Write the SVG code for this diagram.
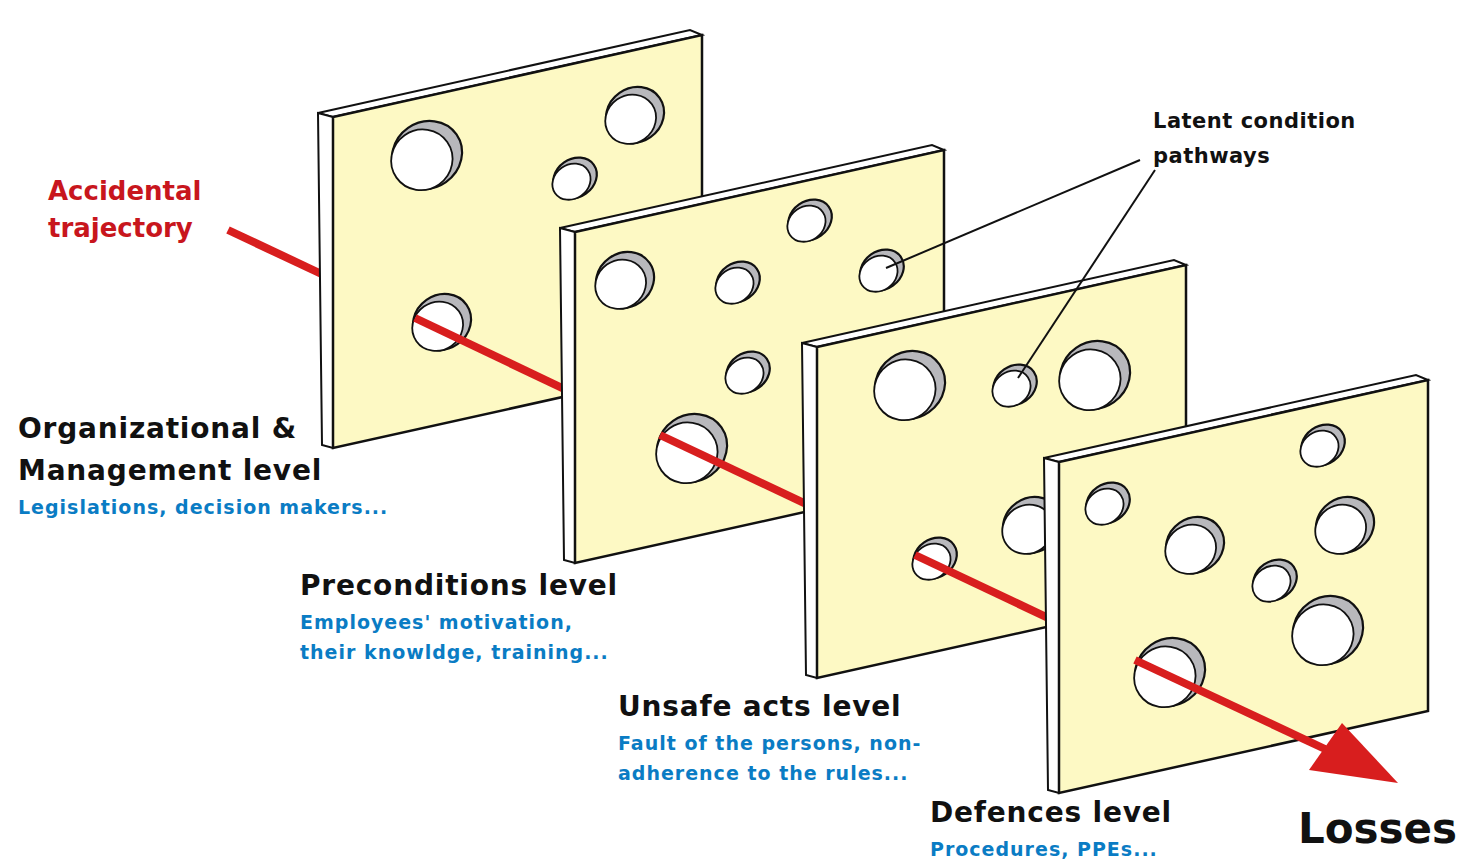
<svg xmlns="http://www.w3.org/2000/svg" xmlns:xlink="http://www.w3.org/1999/xlink" width="1461" height="864" viewBox="0 0 1461 864">
<style>
.face{fill:#fdf9c4;stroke:#111;stroke-width:2.5}
.edge{fill:#fff;stroke:#111;stroke-width:2}
.ho{fill:#b8b8bc;stroke:#111;stroke-width:2.2}
.hi{fill:#fff;stroke:#111;stroke-width:1.8}
.traj{stroke:#d81e1e;stroke-width:8;fill:none}
.lbl{font-family:"DejaVu Sans",Verdana,sans-serif;font-weight:bold}
.t{font-size:28px;fill:#111;letter-spacing:0.8px}
.s{font-size:19px;fill:#0a7cc4;letter-spacing:1px}
</style>
<defs>
<g id="slab">
<path class="edge" d="M318,113 L690,30 L702,35 L333,117 Z"/>
<path class="edge" d="M318,113 L333,117 L333,448 L322,445 Z"/>
<path class="face" d="M333,117 L702,35 L702,366 L333,448 Z"/>
</g>
<g id="hL"><ellipse class="ho" cx="0" cy="0" rx="36" ry="33" transform="rotate(-35)"/><ellipse class="hi" cx="-7" cy="1" rx="31" ry="30" transform="rotate(-35)"/></g>
<g id="hM"><ellipse class="ho" cx="0" cy="0" rx="30" ry="27" transform="rotate(-35)"/><ellipse class="hi" cx="-6" cy="1" rx="26" ry="24" transform="rotate(-35)"/></g>
<g id="hS"><ellipse class="ho" cx="0" cy="0" rx="23" ry="19" transform="rotate(-35)"/><ellipse class="hi" cx="-5" cy="1" rx="20" ry="17" transform="rotate(-35)"/></g>
</defs>
<rect width="1461" height="864" fill="#fff"/>
<line class="traj" x1="228" y1="230" x2="330" y2="278"/>
<g id="slice1">
<use xlink:href="#slab"/>
<use xlink:href="#hL" x="427" y="155"/>
<use xlink:href="#hM" x="635" y="115"/>
<use xlink:href="#hS" x="575" y="178"/>
<use xlink:href="#hM" x="442" y="322"/>
</g>
<line class="traj" x1="415" y1="318" x2="600" y2="406"/>
<g id="slice2" transform="translate(242,115)">
<use xlink:href="#slab"/>
<use xlink:href="#hM" x="383" y="165"/>
<use xlink:href="#hS" x="496" y="167"/>
<use xlink:href="#hS" x="568" y="105"/>
<use xlink:href="#hS" x="640" y="155"/>
<use xlink:href="#hS" x="506" y="257"/>
<use xlink:href="#hL" x="450" y="333"/>
</g>
<line class="traj" x1="660" y1="435" x2="840" y2="520"/>
<g id="slice3" transform="translate(484,230)">
<use xlink:href="#slab"/>
<use xlink:href="#hL" x="426" y="155"/>
<use xlink:href="#hS" x="531" y="155"/>
<use xlink:href="#hL" x="611" y="145"/>
<use xlink:href="#hM" x="548" y="295"/>
<use xlink:href="#hS" x="451" y="328"/>
</g>
<line class="traj" x1="915" y1="555" x2="1080" y2="633"/>
<g id="slice4" transform="translate(726,345)">
<use xlink:href="#slab"/>
<use xlink:href="#hS" x="382" y="158"/>
<use xlink:href="#hM" x="469" y="200"/>
<use xlink:href="#hS" x="597" y="100"/>
<use xlink:href="#hM" x="619" y="180"/>
<use xlink:href="#hS" x="549" y="235"/>
<use xlink:href="#hL" x="602" y="285"/>
<use xlink:href="#hL" x="444" y="327"/>
</g>
<g id="connectors">
<line class="traj" x1="1135" y1="660" x2="1325" y2="749"/>
<polygon points="1398,783 1309,770 1342,723" fill="#d81e1e"/>
<line x1="1140" y1="160" x2="886" y2="268" stroke="#111" stroke-width="2"/>
<line x1="1155" y1="170" x2="1018" y2="378" stroke="#111" stroke-width="2"/>
</g>
<g id="labels" class="lbl">
<text x="1153" y="128" font-size="21" fill="#111" letter-spacing="0.5">Latent condition</text>
<text x="1153" y="163" font-size="21" fill="#111" letter-spacing="0.5">pathways</text>
<text x="48" y="200" font-size="26" fill="#c8161d">Accidental</text>
<text x="48" y="237" font-size="26" fill="#c8161d">trajectory</text>
<text class="t" x="18" y="438">Organizational &amp;</text>
<text class="t" x="18" y="480">Management level</text>
<text class="s" x="18" y="514">Legislations, decision makers...</text>
<text class="t" x="300" y="595">Preconditions level</text>
<text class="s" x="300" y="629">Employees' motivation,</text>
<text class="s" x="300" y="659">their knowldge, training...</text>
<text class="t" x="618" y="716">Unsafe acts level</text>
<text class="s" x="618" y="750">Fault of the persons, non-</text>
<text class="s" x="618" y="780">adherence to the rules...</text>
<text class="t" x="930" y="822">Defences level</text>
<text class="s" x="930" y="856">Procedures, PPEs...</text>
<text x="1298" y="843" font-size="42" fill="#111">Losses</text>
</g>
</svg>
